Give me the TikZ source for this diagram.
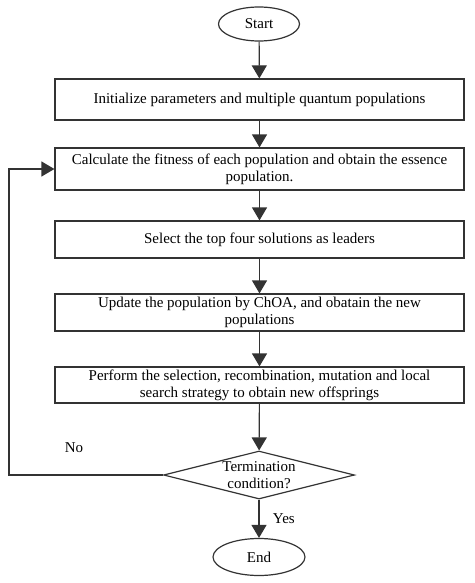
\documentclass[tikz,border=0pt]{standalone}
\usepackage{fontspec}
\setmainfont{Liberation Serif}
\usepackage{tikz}
\usetikzlibrary{arrows.meta,shapes.geometric,positioning}

\begin{document}
\begin{tikzpicture}[x=1pt,y=-1pt,
  line width=1.2pt,draw=black!80,
  every node/.style={font=\fontsize{15}{17}\selectfont},
  stepbox/.style={draw=black!80,rectangle,minimum width=409pt,align=center,inner sep=0pt},
  term/.style={draw=black!80,ellipse,inner sep=0pt},
  cond/.style={draw=black!80,diamond,aspect=4,inner sep=0pt,minimum width=191pt,minimum height=48pt,align=center},
  flow/.style={-{Triangle[width=15pt,length=13pt]}}]
\useasboundingbox (0,0) rectangle (474,583);
\node[term,minimum width=81pt,minimum height=34pt] (start) at (259,24) {Start};
\node[stepbox,minimum height=41pt] (init) at (259.5,99.5) {Initialize parameters and multiple quantum populations};
\node[stepbox,minimum height=42pt] (fit) at (259.5,169) {Calculate the fitness of each population and obtain the essence\\population.};
\node[stepbox,minimum height=37pt] (lead) at (259.5,239.5) {Select the top four solutions as leaders};
\node[stepbox,minimum height=37pt] (upd) at (259.5,312.5) {Update the population by ChOA, and obatain the new\\populations};
\node[stepbox,minimum height=36pt] (perf) at (259.5,385) {Perform the selection, recombination, mutation and local\\search strategy to obtain new offsprings};
\node[cond] (term) at (259,475) {Termination\\condition?};
\node[term,minimum width=92pt,minimum height=37pt] (end) at (259,557) {End};
\coordinate (c1) at (9,475);
\coordinate (c2) at (9,169);
\draw[flow] (start) -- (init);
\draw[flow] (init) -- (fit);
\draw[flow] (fit) -- (lead);
\draw[flow] (lead) -- (upd);
\draw[flow] (upd) -- (perf);
\draw[flow] (perf) -- (term);
\draw[flow] (term) -- node[right=10pt,pos=0.5] (yes) {Yes} (end);
\draw[flow] (term.west) -- (c1) -- (c2) -- (fit.west|-c2);
\node (no) at (74,448) {No};
\end{tikzpicture}
\end{document}
